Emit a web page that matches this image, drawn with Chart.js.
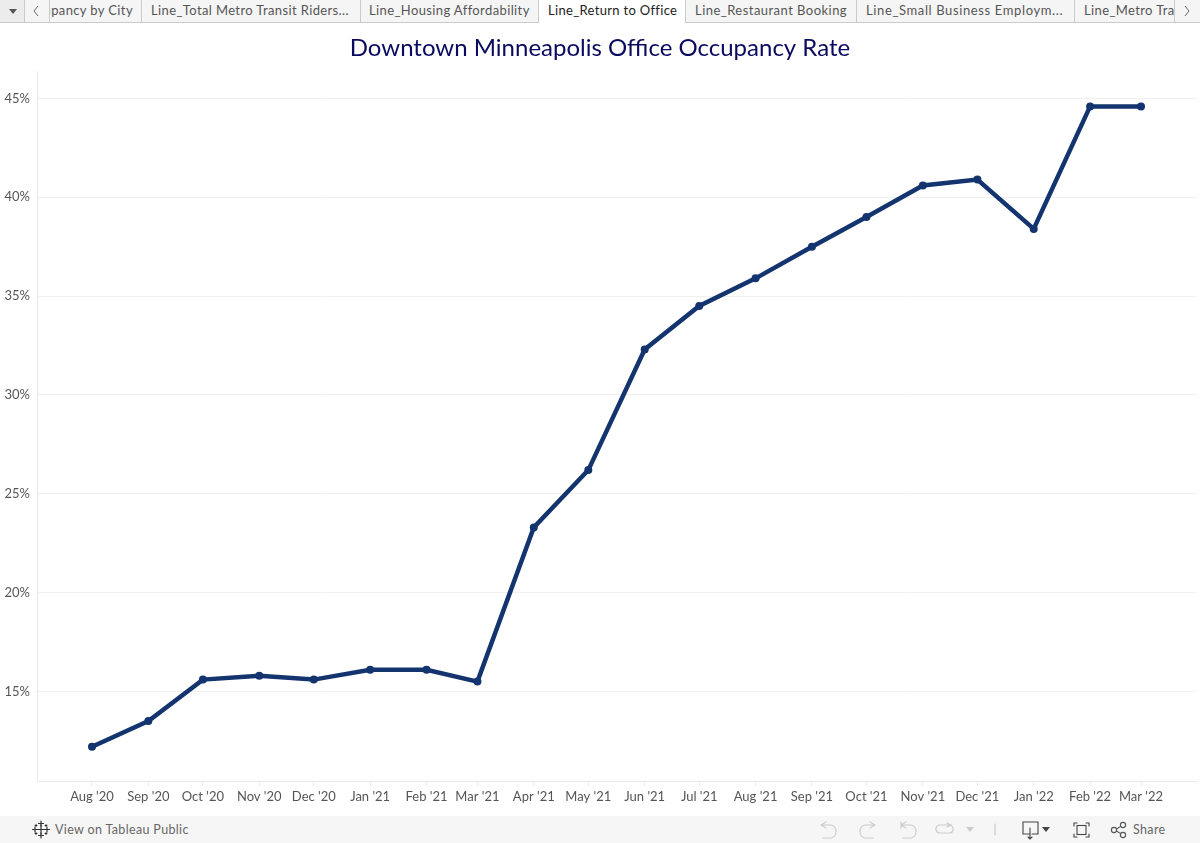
<!DOCTYPE html>
<html>
<head>
<meta charset="utf-8">
<title>Downtown Minneapolis Office Occupancy Rate</title>
<script src="https://cdn.jsdelivr.net/npm/chart.js@4"></script>
<style>
html, body { margin: 0; padding: 0; background: #fff; overflow: hidden; font-family: Lato, sans-serif; }
#page { position: relative; width: 1200px; height: 843px; overflow: hidden; }
#occupancyChart { position: absolute; left: 0; top: 0; }
#tabs { position: absolute; left: 0; top: 0; width: 1200px; height: 22px; background: #f5f5f5; border-bottom: 1px solid #cbcbcb; color: #555; font-size: 13px; letter-spacing: .38px; }
.tab { position: absolute; top: 0; height: 22px; line-height: 21px; border-right: 1px solid #cbcbcb; white-space: nowrap; overflow: hidden; box-sizing: border-box; }
.tab span { position: absolute; top: 0; }
.tab.active { background: #fff; color: #222; height: 23px; border-left: 1px solid #cbcbcb; letter-spacing: .32px; }
#toolbar { position: absolute; left: 0; top: 816px; width: 1200px; height: 27px; background: #f6f6f6; color: #666; font-size: 12.5px; letter-spacing: .35px; }
#toolbar span { position: absolute; top: 6px; line-height: 15px; white-space: nowrap; }
#toolbar svg { position: absolute; left: 0; top: 0; }
</style>
</head>
<body>
<div id="page">
  <canvas id="occupancyChart" width="1200" height="843"></canvas>
  <div id="tabs">
    <div class="tab" style="left:0;width:25px;background:#ececec">
      <svg width="25" height="22"><path d="M9 9h8l-4 5z" fill="#555"/></svg>
    </div>
    <div class="tab" style="left:25px;width:25px">
      <svg width="25" height="22" fill="none" stroke="#666" stroke-width="1"><path d="M13 6l-4 5 4 5"/></svg>
    </div>
    <div class="tab" style="left:50px;width:92px"><span style="right:8px">Line_Occupancy by City</span></div>
    <div class="tab" style="left:142px;width:219px"><span style="left:9px">Line_Total Metro Transit Riders...</span></div>
    <div class="tab" style="left:361px;width:178px"><span style="left:8px">Line_Housing Affordability</span></div>
    <div class="tab active" style="left:538px;width:148px"><span style="left:9px">Line_Return to Office</span></div>
    <div class="tab" style="left:686px;width:171px"><span style="left:9px;letter-spacing:.46px">Line_Restaurant Booking</span></div>
    <div class="tab" style="left:857px;width:218px"><span style="left:9px;letter-spacing:.62px">Line_Small Business Employm...</span></div>
    <div class="tab" style="left:1075px;width:100px"><span style="left:9px">Line_Metro Transit</span></div>
    <div class="tab" style="left:1175px;width:25px;border-right:0">
      <svg width="25" height="22" fill="none" stroke="#666" stroke-width="1"><path d="M10 6l4 5-4 5"/></svg>
    </div>
  </div>
  <div id="toolbar">
    <svg width="1200" height="27" fill="none" stroke-linecap="round">
      <g stroke="#333" stroke-width="1.2">
        <path d="M41 9v9M36.5 13.5h9"/>
        <path d="M41 5v5M38.5 7.5h5M41 17v5M38.5 19.5h5M35 11v5M32.5 13.5h5M47 11v5M44.5 13.5h5"/>
        <path d="M36 8.5v2M35 9.5h2M46 8.5v2M45 9.5h2M36 16.5v2M35 17.5h2M46 16.5v2M45 17.5h2" stroke-width="1"/>
      </g>
      <g stroke="#ccc" stroke-width="1.2">
        <path d="M821 9l5-3M821 9l5 3M821 9h10a6 6 0 0 1 5 6v1a6 6 0 0 1-5 6h-8"/>
        <path d="M875 9l-5-3M875 9l-5 3M875 9h-10a6 6 0 0 0-5 6v1a6 6 0 0 0 5 6h8"/>
        <path d="M901 6v6M901 9l5-3M901 9l5 3M901 9h10a6 6 0 0 1 5 6v1a6 6 0 0 1-5 6h-8"/>
        <path d="M951 9h-12a4 4 0 0 0-3 3v2a4 4 0 0 0 3 3h11a4 4 0 0 0 3-3v-2a4 4 0 0 0-3-3M947 7l4 2-4 2"/>
        <path d="M995 8v11"/>
      </g>
      <path d="M966 11h8l-4 5z" fill="#ccc"/>
      <g stroke="#444" stroke-width="1.1">
        <path d="M1029 18h-6v-12h15v12h-6M1030 12v11M1028 21l2 2 2-2"/>
        <path d="M1074 10v-3h3M1086 7h3v3M1089 18v3h-3M1077 21h-3v-3"/>
        <rect x="1077" y="9.5" width="9" height="9"/>
      </g>
      <path d="M1042 11h8l-4 5z" fill="#444"/>
      <g stroke="#555" stroke-width="1.1">
        <circle cx="1114" cy="14" r="2.6"/><circle cx="1123" cy="9" r="2.6"/><circle cx="1123" cy="19" r="2.6"/>
        <path d="M1116.5 13l4.2-2.6M1116.5 15l4.2 2.6"/>
      </g>
    </svg>
    <span style="left:55px">View on Tableau Public</span>
    <span style="left:1133px">Share</span>
  </div>
</div>
<script>
// Donnees
const months = ['2020-08', '2020-09', '2020-10', '2020-11', '2020-12', '2021-01', '2021-02', '2021-03', '2021-04', '2021-05',
    '2021-06', '2021-07', '2021-08', '2021-09', '2021-10', '2021-11', '2021-12', '2022-01', '2022-02', '2022-03'];
const monthLabels = ["Aug '20", "Sep '20", "Oct '20", "Nov '20", "Dec '20", "Jan '21", "Feb '21", "Mar '21", "Apr '21", "May '21",
    "Jun '21", "Jul '21", "Aug '21", "Sep '21", "Oct '21", "Nov '21", "Dec '21", "Jan '22", "Feb '22", "Mar '22"];
const occupancy = [12.2, 13.5, 15.6, 15.8, 15.6, 16.1, 16.1, 15.5, 23.3, 26.2,
    32.3, 34.5, 35.9, 37.5, 39.0, 40.6, 40.9, 38.4, 44.6, 44.6];
const yTicks = [15, 20, 25, 30, 35, 40, 45];

// Axe du temps en jours depuis le premier mois (espacement reel des mois)
const DAY = 24 * 3600 * 1000;
const startTime = Date.parse(months[0] + '-01T00:00:00Z');
const dayPositions = months.map(m => (Date.parse(m + '-01T00:00:00Z') - startTime) / DAY);

const gridColor = '#f0f0f0';
const axisColor = '#e9e9e9';
const labelColor = '#555555';
const lineColor = '#13346e';

new Chart(document.getElementById('occupancyChart').getContext('2d'), {
    type: 'line',
    data: {
        datasets: [{
            label: 'Occupancy',
            data: dayPositions.map((d, i) => ({ x: d, y: occupancy[i] })),
            borderColor: lineColor,
            backgroundColor: lineColor,
            borderWidth: 4.5,
            pointRadius: 4,
            pointBorderWidth: 0,
            pointHoverRadius: 4,
            tension: 0
        }]
    },
    options: {
        responsive: false,
        animation: false,
        layout: { autoPadding: false, padding: { left: 4, right: 4, top: 0, bottom: 27 } },
        plugins: {
            legend: { display: false },
            tooltip: { enabled: false },
            title: {
                display: true,
                text: 'Downtown Minneapolis Office Occupancy Rate',
                color: '#0a0a5e',
                font: { family: 'Lato', size: 24, weight: 'normal', lineHeight: 1.2 },
                padding: { top: 33.6, bottom: 8.6 }
            }
        },
        scales: {
            x: {
                type: 'linear',
                min: -30.25,
                max: 607.25,
                afterFit: axis => { axis.height = 35; },
                afterBuildTicks: axis => { axis.ticks = dayPositions.map(d => ({ value: d })); },
                grid: { drawOnChartArea: false, drawTicks: true, tickLength: 5, color: axisColor },
                border: { color: axisColor },
                ticks: {
                    autoSkip: false,
                    maxRotation: 0,
                    padding: 3,
                    color: labelColor,
                    font: { family: 'Lato', size: 13 },
                    callback: (value, i) => monthLabels[i]
                }
            },
            y: {
                min: 10.47,
                max: 46.39,
                afterFit: axis => { axis.width = 33; },
                afterBuildTicks: axis => { axis.ticks = yTicks.map(v => ({ value: v })); },
                grid: { drawTicks: false, color: gridColor },
                border: { color: axisColor },
                ticks: {
                    autoSkip: false,
                    padding: 7,
                    color: labelColor,
                    font: { family: 'Lato', size: 13 },
                    callback: value => value + '%'
                }
            }
        }
    }
});
</script>
</body>
</html>
